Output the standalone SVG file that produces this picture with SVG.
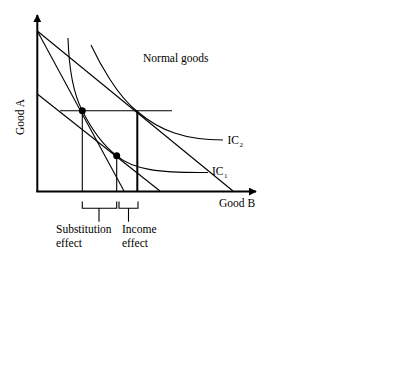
<svg xmlns="http://www.w3.org/2000/svg" width="420" height="367" viewBox="0 0 420 367">
<defs>
<style>
.ln{stroke:#000;stroke-width:1.1;fill:none}
.ax{stroke:#000;stroke-width:2;fill:none}
.t{font-family:"Liberation Serif","Times New Roman",serif;font-size:11.5px;fill:#000}
.s{font-family:"Liberation Serif","Times New Roman",serif;font-size:7px;fill:#000}
</style>
<marker id="ah" viewBox="0 0 10 10" refX="9" refY="5" markerWidth="4" markerHeight="4" orient="auto" markerUnits="strokeWidth">
<path d="M0,0 L10,5 L0,10 Z" fill="#000"/>
</marker>
</defs>
<rect width="420" height="367" fill="#fff"/>
<g id="axes">
<line class="ax" x1="37.3" y1="192" x2="37.3" y2="15" marker-end="url(#ah)"/>
<line class="ax" x1="36.3" y1="191.5" x2="256" y2="191.5" marker-end="url(#ah)"/>
<text class="t" transform="translate(24,135) rotate(-90)">Good A</text>
<text class="t" x="219" y="207">Good B</text>
</g>
<g id="connectors">
<line class="ln" x1="37.3" y1="31" x2="233" y2="191"/>
<line class="ln" x1="37.3" y1="31" x2="124" y2="191"/>
<line class="ln" x1="37.3" y1="94" x2="160" y2="191"/>
<line class="ln" x1="60" y1="110.7" x2="172" y2="110.7"/>
<line class="ln" x1="82.3" y1="110.7" x2="82.3" y2="191"/>
<line class="ln" x1="116.7" y1="155.7" x2="116.7" y2="191"/>
<line class="ax" x1="137.3" y1="110.7" x2="137.3" y2="191"/>
</g>
<g id="ic1">
<path class="ln" d="M68,38 C69,70 74,95 82.3,110.7 C90,126 100,143 116.7,155.7 C133,170 160,173 208,172.5"/>
<text class="t" x="212" y="175">IC</text><text class="s" x="224" y="178">1</text>
</g>
<g id="ic2">
<path class="ln" d="M91,45 C99,62 117,96 137.3,111.5 C160,131 185,140 223,140"/>
<text class="t" x="227.5" y="143.5">IC</text><text class="s" x="239.5" y="146.5">2</text>
</g>
<g id="points">
<circle cx="82.3" cy="110.7" r="3.5" fill="#000"/>
<circle cx="116.7" cy="155.7" r="3.5" fill="#000"/>
</g>
<g id="title">
<text class="t" x="143" y="62">Normal goods</text>
</g>
<g id="brackets">
<path class="ln" d="M82.3,201.5 V208.3 H116.7 V201.5 M99,208.3 V221.7"/>
<path class="ln" d="M119,201.5 V208.3 H138 V201.5 M128.5,208.3 V221.7"/>
<text class="t" x="56" y="233">Substitution</text>
<text class="t" x="56" y="247">effect</text>
<text class="t" x="122" y="233">Income</text>
<text class="t" x="122" y="247">effect</text>
</g>
</svg>
